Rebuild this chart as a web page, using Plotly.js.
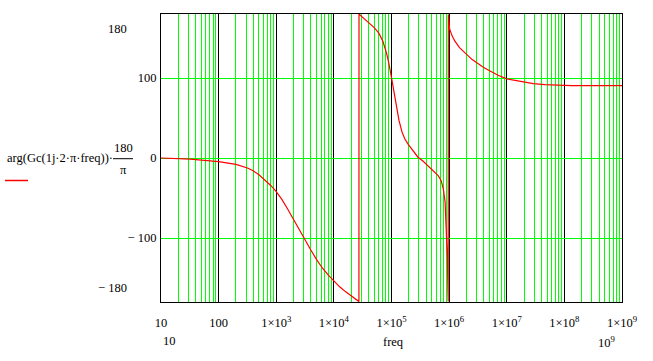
<!DOCTYPE html>
<html>
<head>
<meta charset="utf-8">
<script src="https://cdn.plot.ly/plotly-3.0.1.min.js"></script>
<style>html,body{margin:0;padding:0;background:#fff;}#chart{width:653px;height:361px;}</style>
</head>
<body>
<div id="chart"></div>
<script>
// Frequency (Hz)
var freq = [10, 32, 100, 200, 316, 398, 501, 631, 794, 1000, 1259, 1585, 1995, 2512, 3162, 3981, 5012,
  6310, 7943, 10000, 12589, 15849, 19953, 25119, 27200,
  27300, 31623, 39811, 50119, 60256, 70795, 81283, 89125, 100000, 114815, 123027, 134896, 151356,
  169824, 194984, 223872, 288403, 354813, 436516, 524807, 645654, 724436, 794328, 851138, 891251,
  933254, 954993, 963829,
  968278, 977000, 1023293, 1122018, 1258925, 1513561, 1995262, 2511886, 3019952, 3981072, 5128614,
  7079458, 1e7, 16982437, 28840315, 45708819, 134896288, 1e9];
// Phase in degrees: arg(Gc(1j*2*pi*freq))*180/pi
var phaseDeg = [0, -1.5, -4.5, -8, -12.5, -16, -21, -27, -34, -42, -52, -64, -77, -90, -103, -115, -127,
  -137.5, -146, -154, -161, -167, -172, -177, -179.5,
  179.8, 176, 170, 163, 156, 146, 132, 120, 100.5, 74, 63, 47, 33,
  24, 17, 11, 1, -4, -10, -15, -22, -28, -39, -55, -85,
  -126, -168, -179.5,
  179.5, 175, 161, 153, 146, 138, 129.6, 123, 119, 113, 108.7,
  103.5, 99, 96, 93, 91.7, 90.5, 90.4];

var xTickVals = [10, 100, 1e3, 1e4, 1e5, 1e6, 1e7, 1e8, 1e9];
var xTickText = ["10", "100", "1×10<sup>3</sup>", "1×10<sup>4</sup>", "1×10<sup>5</sup>",
  "1×10<sup>6</sup>", "1×10<sup>7</sup>", "1×10<sup>8</sup>", "1×10<sup>9</sup>"];
var yTickVals = [-100, 0, 100];
var yTickText = ["\u2212 100", "0", "100"];

var minorVals = [];
for (var k = 1; k < 9; k++) { for (var m = 2; m <= 9; m++) { minorVals.push(m * Math.pow(10, k)); } }

var F = "Liberation Serif, Times New Roman, serif";
var trace = {
  x: freq, y: phaseDeg, type: 'scatter', mode: 'lines',
  line: {color: '#ff0000', width: 1.2}, hoverinfo: 'skip', showlegend: false
};

function px(x) { return (x - 161) / 461; }
function py(y) { return (302 - y) / 288; }

var layout = {
  width: 653, height: 361,
  margin: {l: 161, r: 31, t: 14, b: 59, pad: 0},
  paper_bgcolor: '#ffffff', plot_bgcolor: '#ffffff',
  font: {family: F, size: 12.5, color: '#000'},
  showlegend: false,
  xaxis: {
    type: 'log', range: [1, 9], autorange: false,
    tickmode: 'array', tickvals: xTickVals, ticktext: xTickText,
    showgrid: true, gridcolor: '#000000', gridwidth: 1,
    minor: {tickmode: 'array', tickvals: minorVals, showgrid: true, gridcolor: '#00ff00', gridwidth: 1, ticks: ''},
    showline: true, linecolor: '#000', linewidth: 1, mirror: true,
    ticks: '', ticklabelstandoff: 9, zeroline: false,
    tickfont: {family: F, size: 12.5, color: '#000'}
  },
  yaxis: {
    range: [-180, 180], autorange: false,
    tickmode: 'array', tickvals: yTickVals, ticktext: yTickText,
    showgrid: true, gridcolor: '#00ff00', gridwidth: 1, zeroline: false,
    showline: true, linecolor: '#000', linewidth: 1, mirror: true,
    ticks: '', ticklabelstandoff: 1,
    tickfont: {family: F, size: 12.5, color: '#000'}
  },
  annotations: [
    {xref: 'paper', yref: 'paper', x: px(129), y: py(29), xanchor: 'right', yanchor: 'middle', text: '180', showarrow: false, font: {family: F, size: 12.5}},
    {xref: 'paper', yref: 'paper', x: px(129), y: py(288), xanchor: 'right', yanchor: 'middle', text: '\u2212 180', showarrow: false, font: {family: F, size: 12.5}},
    {xref: 'paper', yref: 'paper', x: px(169), y: py(340.5), xanchor: 'center', yanchor: 'middle', text: '10', showarrow: false, font: {family: F, size: 12.5}},
    {xref: 'paper', yref: 'paper', x: px(607), y: py(342), xanchor: 'center', yanchor: 'middle', text: '10<sup>9</sup>', showarrow: false, font: {family: F, size: 12.5}},
    {xref: 'paper', yref: 'paper', x: px(393.5), y: py(342), xanchor: 'center', yanchor: 'middle', text: 'freq', showarrow: false, font: {family: F, size: 12.5}},
    {xref: 'paper', yref: 'paper', x: px(5), y: py(157.5), xanchor: 'left', yanchor: 'middle', text: 'arg(Gc(1j\u00b72\u00b7\u03c0\u00b7freq))\u00b7', showarrow: false, font: {family: F, size: 12.5}},
    {xref: 'paper', yref: 'paper', x: px(123), y: py(148), xanchor: 'center', yanchor: 'middle', text: '180', showarrow: false, font: {family: F, size: 12.5}},
    {xref: 'paper', yref: 'paper', x: px(123), y: py(170), xanchor: 'center', yanchor: 'middle', text: '\u03c0', showarrow: false, font: {family: F, size: 12.5}}
  ],
  shapes: [
    {type: 'line', xref: 'paper', yref: 'paper', x0: px(113), x1: px(133), y0: py(158.7), y1: py(158.7), line: {color: '#000', width: 1}},
    {type: 'line', xref: 'paper', yref: 'paper', x0: px(5), x1: px(28), y0: py(180.5), y1: py(180.5), line: {color: '#ff0000', width: 1.5}}
  ]
};

Plotly.newPlot('chart', [trace], layout, {staticPlot: true, displayModeBar: false});
</script>
</body>
</html>
